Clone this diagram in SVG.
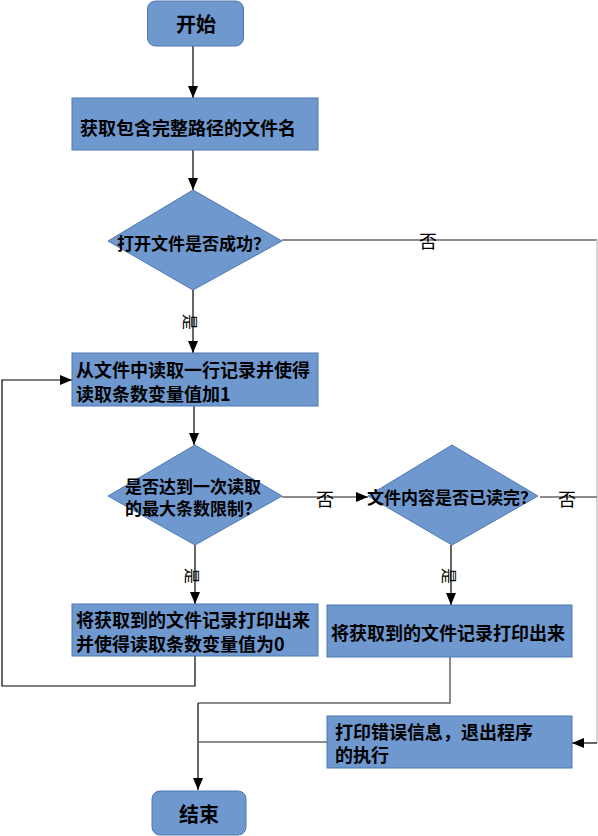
<svg xmlns="http://www.w3.org/2000/svg" width="598" height="836" viewBox="0 0 598 836">
<style>
.n{fill:#6f98cf;stroke:#4f78b0;stroke-width:1}
.t{font-family:"Noto Sans CJK SC","Liberation Sans",sans-serif;font-weight:bold;fill:#000;dominant-baseline:central}
.b{font-size:18px}
.d{font-size:17px}
.lb{font-family:"Noto Sans CJK SC","Liberation Sans",sans-serif;font-size:18px;fill:#000;dominant-baseline:central;text-anchor:middle}
.ly{font-family:"Noto Sans CJK SC","Liberation Sans",sans-serif;font-size:16px;fill:#000;dominant-baseline:central;text-anchor:middle}
.c{fill:none;stroke:#000;stroke-width:1.2}
.g{fill:none;stroke:#666;stroke-width:1.5}
.lg{fill:none;stroke:#c8c8c8;stroke-width:1.5}
</style>
<defs>
<marker id="ah2" viewBox="0 0 12 10" refX="12" refY="5" markerWidth="12" markerHeight="10" markerUnits="userSpaceOnUse" orient="auto">
<path d="M0,0 L12,5 L0,10 z" fill="#000"/>
</marker>
</defs>
<g id="connectors">
<path class="c" d="M193,46 V98" marker-end="url(#ah2)"/>
<path class="c" d="M193,150 V190" marker-end="url(#ah2)"/>
<path class="c" d="M193,290 V353" marker-end="url(#ah2)"/>
<path class="c" d="M194,406 V445" marker-end="url(#ah2)"/>
<path class="c" d="M195,545 V604" marker-end="url(#ah2)"/>
<path class="c" d="M451,545 V605" marker-end="url(#ah2)"/>
<path class="c" d="M195,656 V686 H2 V380 H72" marker-end="url(#ah2)"/>
<path class="g" d="M282,497 H368" marker-end="url(#ah2)"/>
<path class="g" d="M282,240 H597"/>
<path class="lg" d="M597,240 V743"/>
<path class="g" d="M540,497 H597"/>
<path class="c" d="M597,743 H572" marker-end="url(#ah2)"/>
<path class="g" d="M450,657 V703 H198"/>
<path class="c" d="M198,703 V790" marker-end="url(#ah2)"/>
<path class="g" d="M327,742 H197"/>
<text class="lb" x="428" y="240">否</text>
<text class="lb" x="325" y="498">否</text>
<text class="lb" x="567" y="498">否</text>
<text class="ly" transform="translate(191,322) rotate(90)">是</text>
<text class="ly" transform="translate(193,576) rotate(90)">是</text>
<text class="ly" transform="translate(450,576) rotate(90)">是</text>
</g>
<g id="start">
<rect class="n" x="147.5" y="1" width="96" height="45" rx="8"/>
<text class="t" x="196" y="23" font-size="20" text-anchor="middle">开始</text>
</g>
<g id="getname">
<rect class="n" x="72" y="98" width="246" height="52"/>
<text class="t b" x="80" y="127">获取包含完整路径的文件名</text>
</g>
<g id="open-ok">
<polygon class="n" points="108,241 193,190 282,241 193,290"/>
<text class="t d" x="117" y="242">打开文件是否成功？</text>
</g>
<g id="readline">
<rect class="n" x="72" y="353" width="246" height="53"/>
<text class="t b" x="76" y="369">从文件中读取一行记录并使得</text>
<text class="t b" x="76" y="393">读取条数变量值加1</text>
</g>
<g id="maxcount">
<polygon class="n" points="108,496 195,445 282,496 195,545"/>
<text class="t d" x="125" y="485">是否达到一次读取</text>
<text class="t d" x="125" y="507">的最大条数限制？</text>
</g>
<g id="eof">
<polygon class="n" points="368,496 452,445 538,496 452,545"/>
<text class="t d" x="367" y="496">文件内容是否已读完？</text>
</g>
<g id="print-reset">
<rect class="n" x="72" y="604" width="246" height="52"/>
<text class="t b" x="76" y="619">将获取到的文件记录打印出来</text>
<text class="t b" x="76" y="643">并使得读取条数变量值为0</text>
</g>
<g id="print">
<rect class="n" x="327" y="605" width="245" height="52"/>
<text class="t b" x="331" y="632">将获取到的文件记录打印出来</text>
</g>
<g id="error">
<rect class="n" x="327" y="716" width="245" height="52"/>
<text class="t b" x="335" y="731">打印错误信息，退出程序</text>
<text class="t b" x="335" y="754">的执行</text>
</g>
<g id="end">
<rect class="n" x="152" y="791" width="94" height="44" rx="8"/>
<text class="t" x="199" y="813" font-size="20" text-anchor="middle">结束</text>
</g>
</svg>
